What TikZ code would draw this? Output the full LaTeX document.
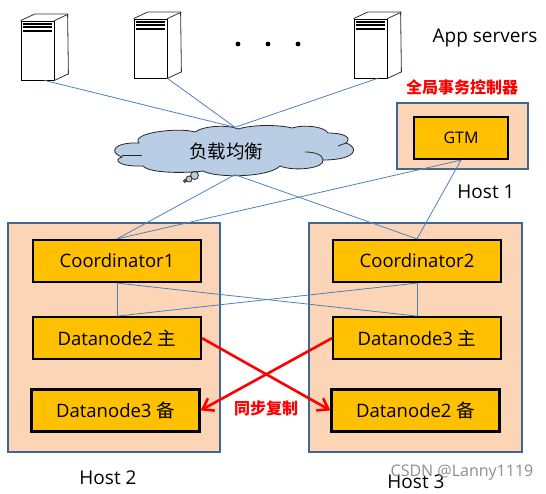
\documentclass[tikz,border=0pt]{standalone}
\usepackage{fontspec}
\setmainfont{Open Sans}
\newfontfamily\cjkfont{Noto Sans CJK SC}
\usetikzlibrary{arrows.meta,positioning}
\definecolor{hostFill}{HTML}{FBD5B5}
\definecolor{hostLine}{HTML}{41668F}
\definecolor{nodeFill}{HTML}{FFC000}
\definecolor{linkBlue}{HTML}{4F81BD}
\definecolor{cloudFill}{HTML}{B9CDE5}
\tikzset{
  hostbox/.style={draw=hostLine, fill=hostFill, line width=1.8pt},
  nodebox/.style={draw=black, fill=nodeFill, line width=2.2pt,
    minimum width=168pt, minimum height=42pt, font=\fontsize{18.5}{20}\selectfont},
  serverbox/.style={draw=black, fill=white, line width=0.8pt,
    minimum width=33pt, minimum height=59pt},
  hostLabel/.style={font=\fontsize{19}{21}\selectfont},
  redLabel/.style={text=red, font=\fontsize{16}{18}\selectfont\cjkfont\bfseries},
  link/.style={draw=linkBlue, line width=0.8pt},
  syncArc/.style={-{Straight Barb[length=10pt,width=14pt]}, draw=red, line width=2.6pt},
  cloudline/.style={draw=black!85, line width=0.8pt},
}
\begin{document}
\begin{tikzpicture}[x=1pt,y=-1pt]
  \useasboundingbox (0,0) rectangle (546,494);
  % hosts
  \draw[hostbox] (8,223) rectangle (220,452);
  \draw[hostbox] (309,223) rectangle (522,452);
  \draw[hostbox] (397,103) rectangle (528,169);
  % app servers
  \foreach \name/\cx/\cy in {srvA/37.5/50.5, srvB/150.5/48.5, srvC/370.5/48.5} {
    \node[serverbox] (\name) at (\cx,\cy) {};
    \draw[line width=0.8pt, draw=black!80] (\name.north west) -- ++(14,-6.5) -- ++(33,0) -- ([shift={(14,-6.5)}]\name.south east) -- (\name.south east);
    \draw[line width=0.8pt, draw=black!80] (\name.north east) -- ++(14,-6.5);
    \foreach \dy in {3.5,6.5,10.5}
      \draw[line width=1.2pt] ([shift={(2,\dy)}]\name.north west) -- ([shift={(-2,\dy)}]\name.north east);
  }
  \foreach \dotx in {238,268,298}
    \fill (\dotx,44) circle (2.4pt);
  \node[hostLabel, anchor=center] (apps) at (485,38) {App servers};
  % load balancer cloud
  \draw[cloudline, fill=cloudFill]
    (122,157) .. controls (108,152) and (114,142) .. (139,143)
    .. controls (130,133) and (178,127) .. (195,132)
    .. controls (205,125) and (230,125) .. (238,129)
    .. controls (255,124) and (280,125) .. (292,128)
    .. controls (305,124) and (325,127) .. (328,133)
    .. controls (345,133) and (352,138) .. (346,143)
    .. controls (360,148) and (356,160) .. (323,160)
    .. controls (325,168) and (295,172) .. (280,166)
    .. controls (268,178) and (215,178) .. (203,171)
    .. controls (190,173) and (150,174) .. (143,166)
    .. controls (120,167) and (112,160) .. (122,157) -- cycle;
  \draw[cloudline] (122,155) -- (142,155);
  \draw[cloudline] (305,152) .. controls (315,152) and (323,155) .. (323,160);
  \draw[cloudline] (338,146) -- (346,143);
  \draw[cloudline, fill=cloudFill] (194.5,175.5) circle (4pt);
  \draw[cloudline, fill=cloudFill] (189,179) circle (3pt);
  \draw[cloudline, fill=cloudFill] (185,181) circle (1.5pt);
  \node[minimum width=238pt, minimum height=47pt, inner sep=0pt, font=\fontsize{18.5}{20}\selectfont\cjkfont] (lb) at (235,151) {\hspace*{-18pt}负载均衡};
  % gtm
  \node[nodebox, minimum width=94pt, font=\fontsize{16}{18}\selectfont] (gtm) at (461,138) {GTM};
  \node[redLabel, anchor=center] (gtmTitle) at (462,87) {全局事务控制器};
  \node[hostLabel] (hostOne) at (486,192) {Host 1};
  % coordinators and datanodes
  \node[nodebox] (coordA) at (117,261) {Coordinator1};
  \node[nodebox, below=33pt of coordA] (dataA) {Datanode2 {\cjkfont 主}};
  \node[nodebox, below=28pt of dataA, xshift=-1.5pt] (backA) {Datanode3 {\cjkfont 备}};
  \node[nodebox] (coordB) at (417,261) {Coordinator2};
  \node[nodebox, below=33pt of coordB] (dataB) {Datanode3 {\cjkfont 主}};
  \node[nodebox, below=28pt of dataB, xshift=-1.5pt] (backB) {Datanode2 {\cjkfont 备}};
  \node[hostLabel] (hostTwo) at (108,478) {Host 2};
  \node[hostLabel] (hostThree) at (416,482) {Host 3};
  % links
  \draw[link] ([xshift=7pt]srvA.south) -- (lb.north);
  \draw[link] (srvB.south east) -- (lb.north);
  \draw[link] ([xshift=7pt]srvC.south) -- (lb.north);
  \draw[link] (lb.south) -- (coordA.north);
  \draw[link] (lb.south) -- (coordB.north);
  \draw[link] (gtm.south) -- (coordA.north);
  \draw[link] (gtm.south) -- (coordB.north);
  \draw[link] (coordA.south) -- (dataA.north);
  \draw[link] (coordB.south) -- (dataB.north);
  \draw[link] (coordA.south) -- (dataB.north);
  \draw[link] (coordB.south) -- (dataA.north);
  \draw[syncArc] (dataA.east) -- (backB.west);
  \draw[syncArc] (dataB.west) -- (backA.east);
  \node[redLabel] (sync) at (266,408) {同步复制};
  \node[text=black!45, font=\fontsize{16}{18}\selectfont] (mark) at (462,473) {CSDN @Lanny1119};
\end{tikzpicture}
\end{document}
